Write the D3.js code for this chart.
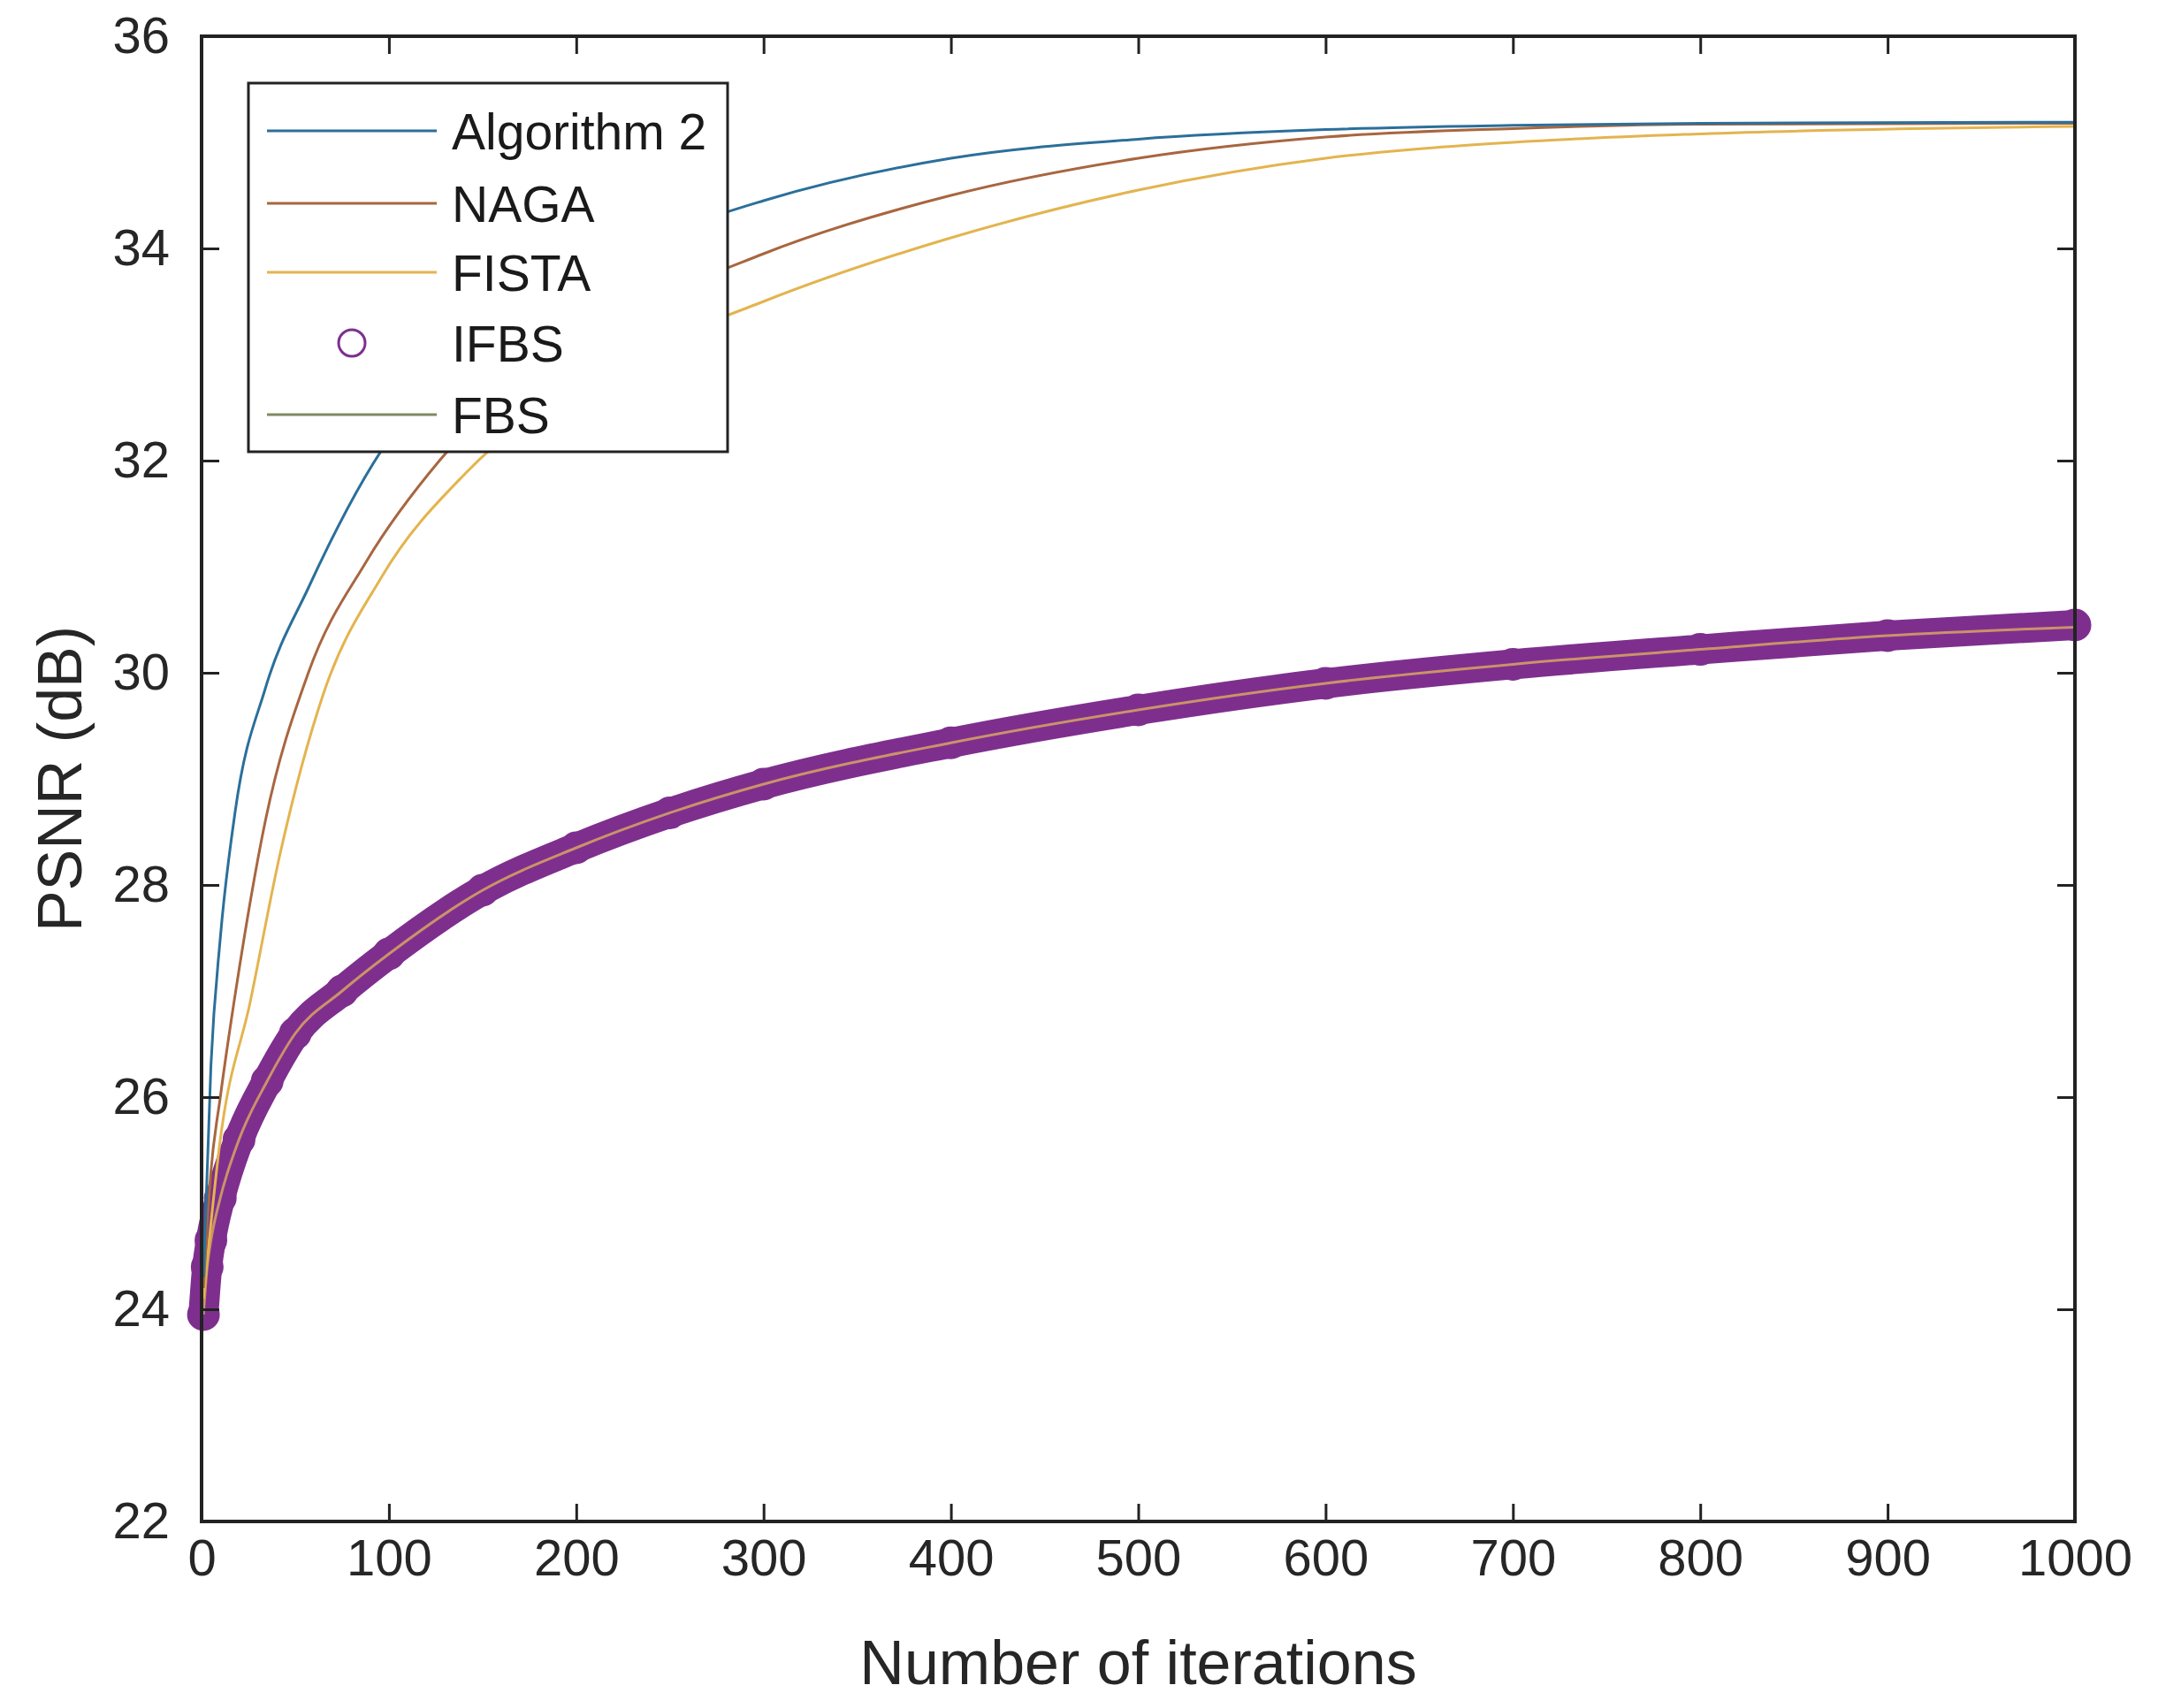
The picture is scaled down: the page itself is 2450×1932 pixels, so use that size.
<!DOCTYPE html>
<html><head><meta charset="utf-8">
<script src="https://cdn.jsdelivr.net/npm/d3@7"></script>
<style>body{margin:0;background:#fff}svg{display:block}</style>
</head><body>
<svg id="c" width="2450" height="1932"></svg>
<script>
const xTicks = [0,100,200,300,400,500,600,700,800,900,1000];
const yTicks = [22,24,26,28,30,32,34,36];
const alg2It  = [1,5,10,18,34,57,100,150,200,250,300,400,500,600,700,800,1000];
const alg2    = [24.3,26.3,27.5,28.7,29.85,30.8,32.2,33.05,33.7,34.15,34.45,34.85,35.03,35.12,35.16,35.18,35.19];
const nagaIt  = [1,5,10,20,34,57,88,127,200,300,400,500,600,700,800,1000];
const naga    = [24.2,25.3,26.0,27.2,28.6,30.0,31.05,32.0,33.1,33.95,34.5,34.85,35.05,35.13,35.17,35.18];
const fistaIt = [1,10,26,42,65,96,142,200,300,400,500,600,700,800,1000];
const fista   = [24.1,25.6,26.9,28.3,29.8,30.9,31.9,32.7,33.5,34.1,34.55,34.85,35.0,35.08,35.15];
const ifbsIt  = [1,3,5,10,20,35,50,75,100,150,200,250,300,400,500,600,700,800,900,1000];
const ifbs    = [23.95,24.4,24.65,25.05,25.6,26.15,26.6,27.0,27.35,27.95,28.35,28.68,28.95,29.34,29.65,29.9,30.08,30.22,30.35,30.45];
const fbs     = [23.95,24.4,24.65,25.05,25.6,26.15,26.6,27.0,27.35,27.95,28.35,28.68,28.95,29.34,29.65,29.9,30.08,30.22,30.35,30.43];
const labels = ["Algorithm 2","NAGA","FISTA","IFBS","FBS"];
const colors = ["#2b6f9a","#a8663f","#e3b44f","#7e2f8e","#a8955f"];

const svg = d3.select("#c");
const L=228,R=2347,T=41,B=1721;
const x = d3.scaleLinear().domain([0,1000]).range([L,R]);
const y = d3.scaleLinear().domain([22,36]).range([B,T]);
const font="Liberation Sans, Arial, sans-serif";
const line = (xs,ys)=>d3.line().x((d,i)=>x(xs[i])).y(d=>y(d)).curve(d3.curveMonotoneX)(ys);

svg.append("path").attr("d",line(ifbsIt,ifbs)).attr("fill","none").attr("stroke","#7e2f8e").attr("stroke-width",34).attr("stroke-linecap","round");
svg.selectAll(".mk").data(ifbs).enter().append("circle")
  .attr("cx",(d,i)=>x(ifbsIt[i])).attr("cy",d=>y(d)).attr("r",17)
  .attr("fill","none").attr("stroke","#7e2f8e").attr("stroke-width",3);
svg.append("path").attr("d",line(ifbsIt,fbs)).attr("fill","none").attr("stroke","#c9936a").attr("stroke-width",3);
[[fistaIt,fista,2],[nagaIt,naga,1],[alg2It,alg2,0]].forEach(([xs,s,k])=>{
  svg.append("path").attr("d",line(xs,s)).attr("fill","none").attr("stroke",colors[k]).attr("stroke-width",3);
});

svg.append("rect").attr("x",L).attr("y",T).attr("width",R-L).attr("height",B-T).attr("fill","none").attr("stroke","#222").attr("stroke-width",4);
const gx = svg.append("g").attr("transform",`translate(0,${B})`).call(d3.axisBottom(x).tickValues(xTicks).tickFormat(d3.format("d")).tickSize(-20).tickPadding(38));
const gxt = svg.append("g").attr("transform",`translate(0,${T})`).call(d3.axisTop(x).tickValues(xTicks).tickSize(-20).tickFormat(""));
const gy = svg.append("g").attr("transform",`translate(${L},0)`).call(d3.axisLeft(y).tickValues(yTicks).tickSize(-20).tickPadding(36));
const gyr = svg.append("g").attr("transform",`translate(${R},0)`).call(d3.axisRight(y).tickValues(yTicks).tickSize(-20).tickFormat(""));
[gx,gxt,gy,gyr].forEach(g=>{g.select(".domain").remove();g.selectAll("line").attr("stroke","#222").attr("stroke-width",3);
  g.selectAll("text").attr("font-family",font).attr("font-size",58).attr("fill","#262626");});
gx.selectAll("text").attr("dy","0.4em");

svg.append("text").attr("x",(L+R)/2).attr("y",1905).attr("text-anchor","middle").attr("font-family",font).attr("font-size",70).attr("fill","#262626").text("Number of iterations");
svg.append("text").attr("transform",`translate(92,${(T+B)/2}) rotate(-90)`).attr("text-anchor","middle").attr("font-family",font).attr("font-size",70).attr("fill","#262626").text("PSNR (dB)");

const lg = svg.append("g");
lg.append("rect").attr("x",281).attr("y",94).attr("width",542).attr("height",417).attr("fill","#fff").attr("stroke","#222").attr("stroke-width",3);
const rows=[148,230,308,388,469];
labels.forEach((t,i)=>{
  if(i===3) lg.append("circle").attr("cx",398).attr("cy",rows[i]).attr("r",15).attr("fill","none").attr("stroke",colors[3]).attr("stroke-width",3);
  else lg.append("line").attr("x1",302).attr("x2",494).attr("y1",rows[i]).attr("y2",rows[i]).attr("stroke",i===4?"#7f8a60":colors[i]).attr("stroke-width",3);
  lg.append("text").attr("x",511).attr("y",rows[i]).attr("dy","0.36em").attr("font-family",font).attr("font-size",57).attr("fill","#1a1a1a").text(t);
});
</script></body></html>
